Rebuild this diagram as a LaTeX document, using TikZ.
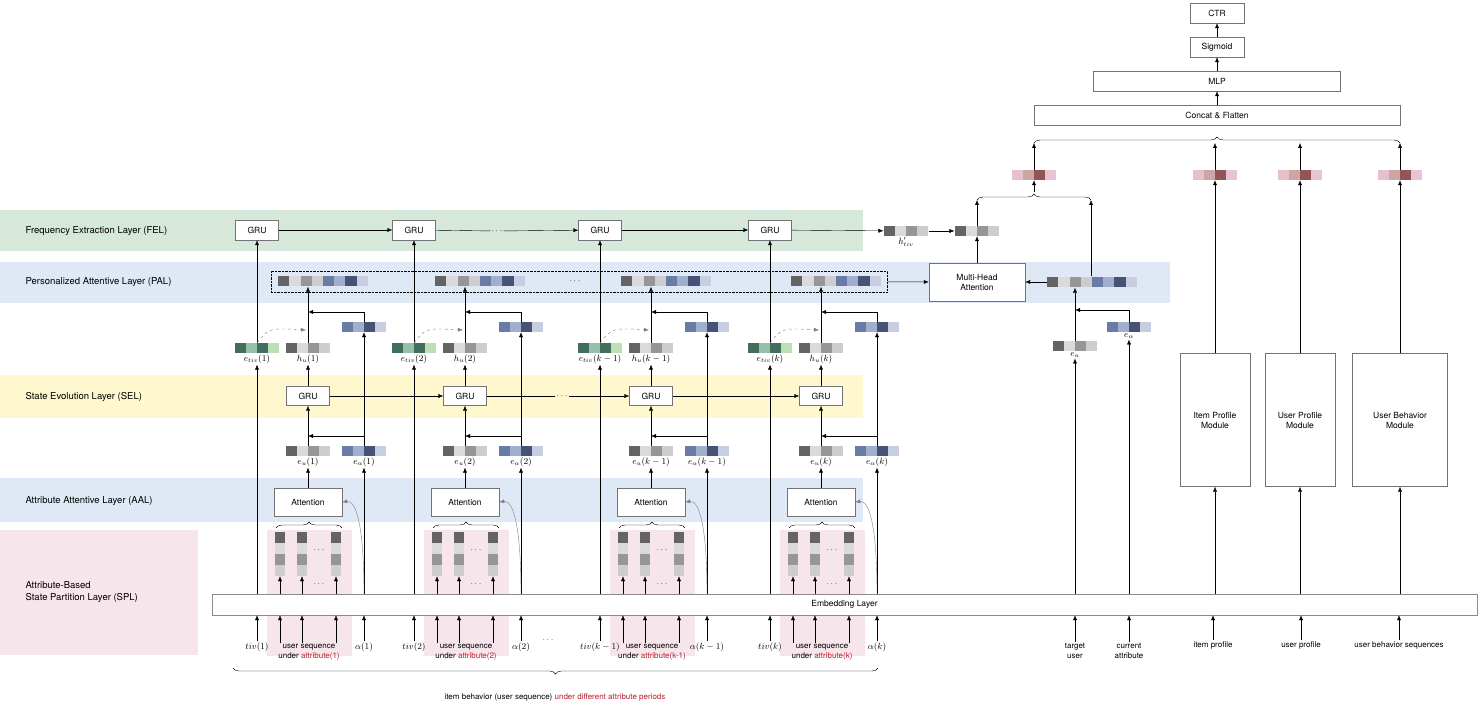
\documentclass[tikz,border=0pt]{standalone}
\usepackage{fontspec}
\setsansfont{TeX Gyre Heros}
\usetikzlibrary{positioning,decorations.pathreplacing,arrows.meta}
\definecolor{g1}{RGB}{100,100,100}\definecolor{g2}{RGB}{218,218,218}
\definecolor{g3}{RGB}{150,150,150}\definecolor{g4}{RGB}{205,205,205}
\definecolor{b1}{RGB}{104,124,166}\definecolor{b2}{RGB}{160,176,204}
\definecolor{b3}{RGB}{70,82,118}\definecolor{b4}{RGB}{200,206,226}
\definecolor{t1}{RGB}{66,110,96}\definecolor{t2}{RGB}{150,192,170}
\definecolor{t4}{RGB}{190,222,182}
\definecolor{p1}{RGB}{232,192,204}\definecolor{p2}{RGB}{205,165,165}
\definecolor{p3}{RGB}{145,85,85}\definecolor{p4}{RGB}{232,195,212}
\definecolor{felbg}{RGB}{213,232,218}\definecolor{palbg}{RGB}{222,233,245}
\definecolor{selbg}{RGB}{255,247,206}\definecolor{splbg}{RGB}{246,230,236}
\definecolor{attr}{RGB}{185,30,45}
\newcommand{\cellrow}[1]{\foreach \c [count=\i] in {#1}{\fill[\c] ([xshift={(\i-1)*11.2pt}]path picture bounding box.north west) rectangle ++(11.2,10);}}
\newcommand{\cellcol}[1]{\foreach \c [count=\i] in {#1}{\fill[\c] ([yshift={-(\i-1)*11pt}]path picture bounding box.north west) rectangle ++(10,11);}}
\tikzset{
  vec/.style={inner sep=0,minimum width=44.8,minimum height=10},
  gvec/.style={vec,path picture={\cellrow{g1,g2,g3,g4}}},
  bvec/.style={vec,path picture={\cellrow{b1,b2,b3,b4}}},
  tvec/.style={vec,path picture={\cellrow{t1,t2,t1,t4}}},
  pvec/.style={vec,path picture={\cellrow{p1,p2,p3,p4}}},
  pal/.style={inner sep=0,minimum width=89.6,minimum height=11,path picture={\cellrow{g1,g2,g3,g4,b1,b2,b3,b4}}},
  ivec/.style={inner sep=0,minimum width=10,minimum height=44,path picture={\cellcol{g1,g2,g3,g4}}},
  box/.style={draw=black!55,fill=white,inner sep=1pt,font=\fontsize{8.5}{10}\sffamily},
  lbl/.style={inner sep=1pt,font=\fontsize{9}{10}\selectfont},
  txt/.style={inner sep=1pt,font=\fontsize{8}{10}\sffamily,align=center},
  layer/.style={anchor=west,align=left,font=\fontsize{9.5}{11.5}\sffamily},
  brc/.style={decorate,decoration={brace,amplitude=6pt}},
  >={Latex[length=5pt,width=4pt]}
}
\begin{document}
\begin{tikzpicture}[x=1pt,y=-1pt]
\useasboundingbox (0,0) rectangle (1482,703);
% layer bands
\fill[felbg] (0,210) rectangle (863,251);
\fill[palbg] (0,262) rectangle (1170,303);
\fill[selbg] (0,375) rectangle (863,418);
\fill[palbg] (0,478) rectangle (863,522);
\fill[splbg] (0,530) rectangle (198,655);
\foreach \xb in {257,414,600,770}{\fill[splbg] (\xb+10,530) rectangle (\xb+95,656);}
\node[layer] (fel) at (22,231) {Frequency Extraction Layer (FEL)};
\node[layer] (pall) at (22,282) {Personalized Attentive Layer (PAL)};
\node[layer] (sel) at (22,397) {State Evolution Layer (SEL)};
\node[layer] (aal) at (22,501) {Attribute Attentive Layer (AAL)};
\node[layer] (spl) at (22,592) {Attribute-Based\\State Partition Layer (SPL)};
\node[box,draw=black!45,minimum width=1265,minimum height=21] (emb) at (844.5,604.5) {Embedding Layer};
% four attribute periods
\foreach \xb/\lab [count=\n] in {257/1,414/2,600/k-1,770/k}{
  \node[box,minimum width=43,minimum height=20] (fgru\n) at (\xb,230) {GRU};
  \node[pal] (pal\n) at (\xb+66,281) {};
  \node[tvec] (etiv\n) at (\xb,348) {};
  \node[lbl,below=0pt of etiv\n] (etivl\n) {$e_{tiv}(\lab)$};
  \node[gvec] (hu\n) at (\xb+51,348) {};
  \node[lbl,below=0pt of hu\n] (hul\n) {$h_u(\lab)$};
  \node[bvec] (au\n) at (\xb+107,327) {};
  \node[box,minimum width=43,minimum height=19] (sgru\n) at (\xb+51,396) {GRU};
  \node[gvec] (eu\n) at (\xb+51,451) {};
  \node[lbl,below=0pt of eu\n] (eul\n) {$e_u(\lab)$};
  \node[bvec] (ea\n) at (\xb+107,451) {};
  \node[lbl,below=0pt of ea\n] (eal\n) {$e_\alpha(\lab)$};
  \node[box,minimum width=68,minimum height=28] (att\n) at (\xb+51,502) {Attention};
  \foreach \o [count=\m] in {23,45,79}{
    \node[ivec] (st\n-\m) at (\xb+\o,554) {};
    \draw[->] (emb.north -| st\n-\m) -- (st\n-\m.south);
  }
  \node[lbl] (dd\n) at (\xb+62,550) {$\cdots$};
  \node[lbl] (de\n) at (\xb+62,584) {$\cdots$};
  \draw[brc] (\xb+19,528) -- (\xb+85,528);
  \node[lbl] (tivl\n) at (\xb,647) {$tiv(\lab)$};
  \node[lbl] (alpl\n) at (\xb+107,647) {$\alpha(\lab)$};
  \node[txt] (useq\n) at (\xb+52,652) {user sequence\\under \textcolor{attr}{attribute(\lab)}};
  \coordinate (ja\n) at (\xb+107,436);
  \coordinate (jb\n) at (\xb+107,312);
  \coordinate (dh\n) at (\xb+49,330);
  \draw[->] (tivl\n) -- (tivl\n |- emb.south);
  \draw[->] (alpl\n) -- (alpl\n |- emb.south);
  \foreach \m in {1,2,3}{\draw[->] (useq\n.north -| st\n-\m) -- (emb.south -| st\n-\m);}
  \draw[->] (emb.north -| etiv\n) -- (etivl\n.south);
  \draw[->] (etiv\n.north) -- (fgru\n.south);
  \draw[->] (emb.north -| ea\n) -- (eal\n.south);
  \draw[->] (ea\n.north) -- (au\n.south);
  \draw[->] (ja\n) -- (ja\n -| eu\n);
  \draw[->] (au\n.north) |- (jb\n -| hu\n);
  \draw[->] (att\n.north) -- (eul\n.south);
  \draw[->] (eu\n.north) -- (sgru\n.south);
  \draw[->] (sgru\n.north) -- (hul\n.south);
  \draw[->] (hu\n.north) -- (hu\n.north |- pal\n.south);
  \draw[->,gray,dashed] (etiv\n.north) .. controls (\xb+12,328) .. (dh\n);
  \draw[->,gray] (emb.north -| ea\n) .. controls (\xb+107,530) and (\xb+100,500) .. (att\n.east);
}
% recurrences
\node[lbl] (fdots) at (497,231) {$\cdots$};
\node[lbl] (sdots) at (562,396) {$\cdots$};
\node[lbl] (pdots) at (575,281) {$\cdots$};
\node[lbl] (bdots) at (548,640) {$\cdots$};
\draw[->] (fgru1) -- (fgru2);
\draw (fgru2) -- (fdots);
\draw[->] (fdots) -- (fgru3);
\draw[->] (fgru3) -- (fgru4);
\draw[->] (sgru1) -- (sgru2);
\draw (sgru2) -- (sdots);
\draw[->] (sdots) -- (sgru3);
\draw[->] (sgru3) -- (sgru4);
\node[draw,densely dotted,inner sep=0,minimum width=616,minimum height=21] (palbox) at (579,281.5) {};
\draw[brc,decoration={mirror}] (233,668) -- (878,668);
\node[txt] (ibeh) at (555,697) {item behavior (user sequence) \textcolor{attr}{under different attribute periods}};
% target side
\node[gvec] (htiv) at (906,231) {};
\node[lbl,below=0pt of htiv] (htivl) {$h'_{tiv}$};
\node[gvec] (hout) at (977,231) {};
\node[box,align=center,minimum width=96,minimum height=38] (mha) at (977,282) {Multi-Head\\Attention};
\node[pal] (upal) at (1092,282) {};
\node[gvec] (eut) at (1075,346) {};
\node[lbl,below=0pt of eut] (eutl) {$e_u$};
\node[bvec] (eat) at (1129,327) {};
\node[lbl,below=0pt of eat] (eatl) {$e_\alpha$};
\coordinate (jt) at (1075,310);
\draw[->] (fgru4) -- (htiv);
\draw[->] (htiv) -- (hout);
\draw[->] (palbox) -- (mha);
\draw[->] (upal) -- (mha);
\draw[->] (mha) -- (hout);
\draw[->] (eut.north) -- (eut.north |- upal.south);
\draw[->] (eat.north) |- (jt);
\draw[->] (emb.north -| eut) -- (eutl.south);
\draw[->] (emb.north -| eat) -- (eatl.south);
\coordinate (bl) at (977,200);
\coordinate (br) at (1091,200);
\draw[brc] (bl) -- (br);
\draw[->] (hout.north) -- (bl);
\draw[->] (upal.north -| br) -- (br);
\node[pvec] (pc1) at (1034,175) {};
\draw[->] (1034,192) -- (pc1.south);
% profile modules
\node[box,align=center,minimum width=70,minimum height=133] (ipm) at (1215,420) {Item Profile\\Module};
\node[box,align=center,minimum width=70,minimum height=133] (upm) at (1300,420) {User Profile\\Module};
\node[box,align=center,minimum width=95,minimum height=133] (ubm) at (1400,420) {User Behavior\\Module};
\node[pvec] (pc2) at (1215,175) {};
\node[pvec] (pc3) at (1300,175) {};
\node[pvec] (pc4) at (1400,175) {};
\node[txt] (intu) at (1075,651) {target\\user};
\node[txt] (inca) at (1129,651) {current\\attribute};
\node[txt] (inip) at (1213,645) {item profile};
\node[txt] (inup) at (1301,645) {user profile};
\node[txt] (inub) at (1399,645) {user behavior sequences};
\foreach \s in {intu,inca,inip,inup,inub}{\draw[->] (\s.north) -- (\s.north |- emb.south);}
\foreach \s/\p in {ipm/pc2,upm/pc3,ubm/pc4}{
  \draw[->] (emb.north -| \s) -- (\s.south);
  \draw[->] (\s.north) -- (\p.south);
}
% output head
\node[box,minimum width=366,minimum height=20] (cat) at (1217,115) {Concat \& Flatten};
\node[box,minimum width=247,minimum height=20] (mlp) at (1217,81) {MLP};
\node[box,minimum width=54,minimum height=20] (sig) at (1217,47) {Sigmoid};
\node[box,minimum width=54,minimum height=20] (ctr) at (1217,13) {CTR};
\coordinate (cl) at (1034,143);
\coordinate (cr) at (1400,143);
\draw[brc] (cl) -- (cr);
\foreach \p in {pc1,pc2,pc3,pc4}{\draw[->] (\p.north) -- (\p.north |- cl);}
\draw[->] (cat) -- (mlp);
\draw[->] (mlp) -- (sig);
\draw[->] (sig) -- (ctr);
\end{tikzpicture}
\end{document}
